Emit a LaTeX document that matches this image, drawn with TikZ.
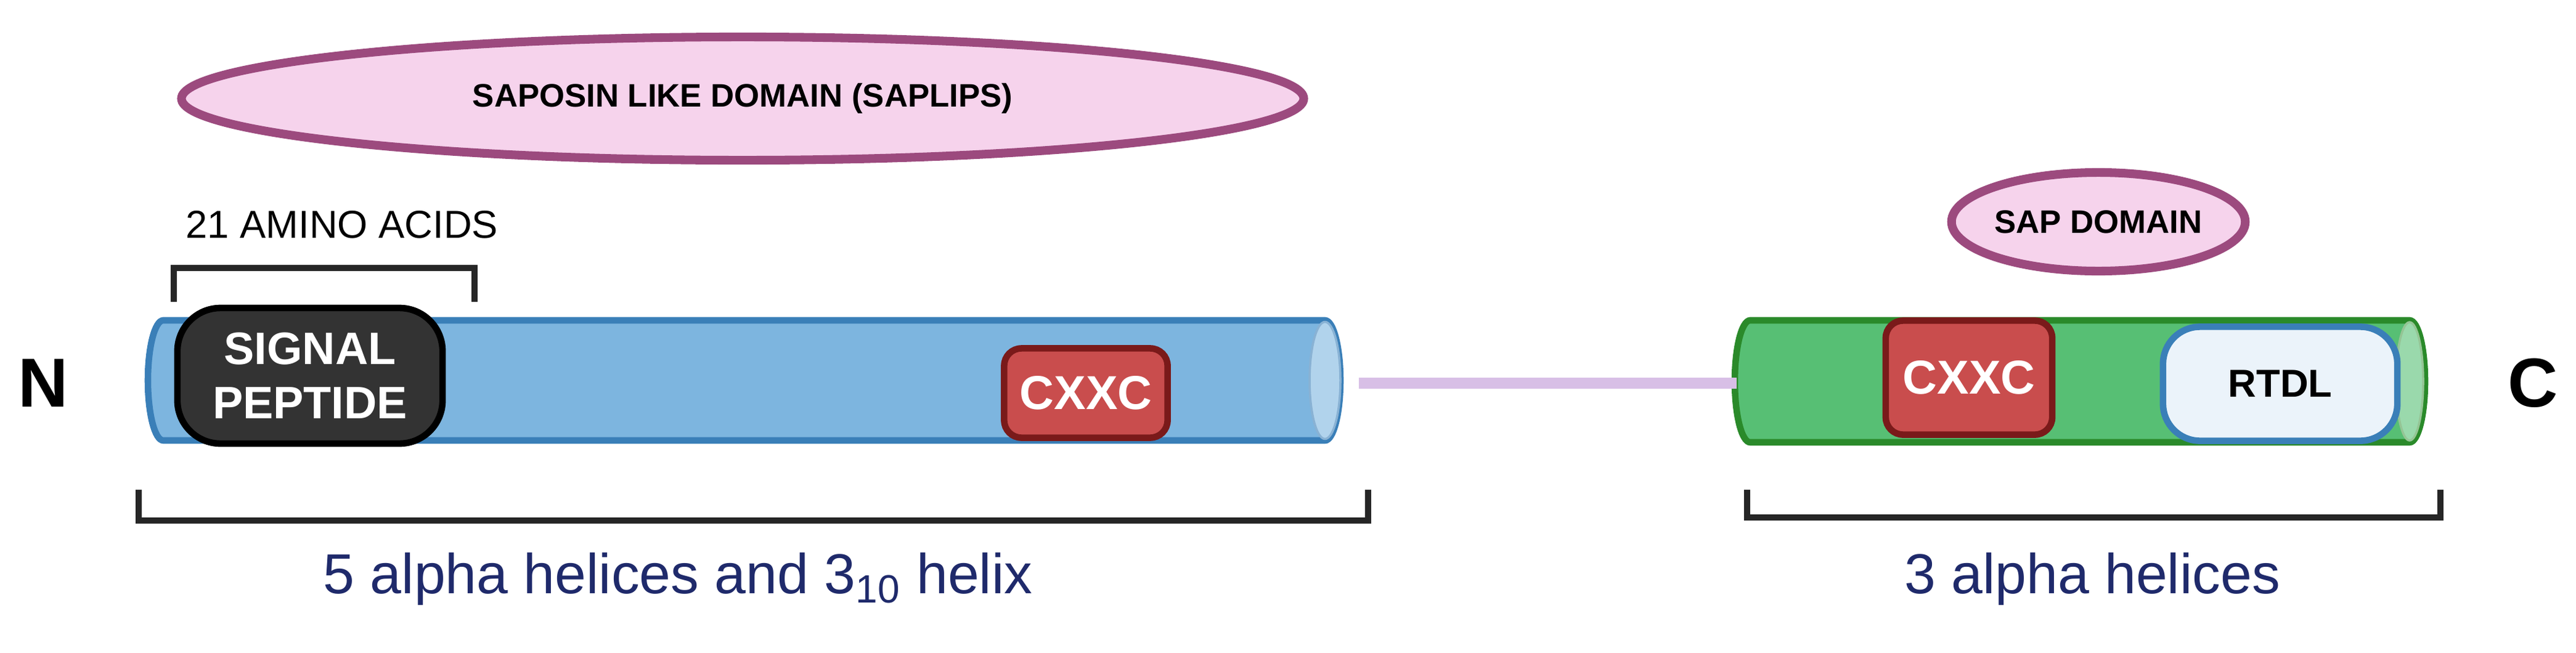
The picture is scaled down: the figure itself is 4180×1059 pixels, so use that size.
\documentclass[tikz,border=0pt]{standalone}
\usepackage{fontspec}
\setmainfont{Liberation Sans}
\usetikzlibrary{positioning,shapes.geometric}
\definecolor{helixblue}{HTML}{7DB5DF}
\definecolor{helixblueline}{HTML}{3A7FB8}
\definecolor{helixgreen}{HTML}{57BF74}
\definecolor{helixgreenline}{HTML}{2A8A2A}
\definecolor{domainpink}{HTML}{F6D3EC}
\definecolor{domainline}{HTML}{9C4A7E}
\definecolor{motifred}{HTML}{C94D4D}
\definecolor{motifline}{HTML}{7A1A1A}
\definecolor{linkerlilac}{HTML}{D8BFE6}
\definecolor{navytext}{HTML}{1F2A6B}
\tikzset{protdomain/.style={ellipse,draw=domainline,fill=domainpink,line width=4pt,
    font=\bfseries\fontsize{15}{18}\selectfont,inner sep=0pt},
  motif/.style={draw=motifline,fill=motifred,line width=3pt,rounded corners=8pt,
    text=white,font=\bfseries\fontsize{22}{26}\selectfont},
  bracket/.style={line width=3pt,draw=black!85},
  helixtext/.style={text=navytext,font=\fontsize{26}{30}\selectfont}}

\begin{document}
\begin{tikzpicture}[x=0.01cm,y=0.01cm]
	\useasboundingbox (0,0) rectangle (4180,1059);
	% domains on top
	\node[protdomain,minimum width=18.2cm,minimum height=2cm] (saplip) at (1205,899) {SAPOSIN LIKE DOMAIN (SAPLIPS)};
	\node[protdomain,minimum width=4.1cm,minimum height=1.6cm] (sap) at (3405,699) {SAP DOMAIN};
	\node[font=\fontsize{18}{22}\selectfont] (amino) at (555,694) {21 AMINO ACIDS};
	\draw[bracket] (282,569) -- (282,624) -- (770,624) -- (770,569);

	% blue helix
	\draw[draw=helixblueline,fill=helixblue,line width=3pt]
		(265,344) -- (2150,344) arc[start angle=-90,end angle=90,x radius=25,y radius=97.5]
		-- (265,539) arc[start angle=90,end angle=270,x radius=25,y radius=97.5] -- cycle;
	\draw[draw=helixblueline!60,fill=helixblue!60!white,line width=1pt] (2150,441.5) ellipse[x radius=25,y radius=95];
	\coordinate (blueend) at (2205,437);
	% green helix
	\draw[draw=helixgreenline,fill=helixgreen,line width=3pt]
		(2840,341) -- (3910,341) arc[start angle=-90,end angle=90,x radius=25,y radius=99]
		-- (2840,539) arc[start angle=90,end angle=270,x radius=25,y radius=99] -- cycle;
	\draw[draw=helixgreenline!50,fill=helixgreen!60!white,line width=1pt] (3910,440) ellipse[x radius=22,y radius=96];
	\coordinate (greenstart) at (2818,437);
	\draw[linkerlilac,line width=5pt] (blueend) -- (greenstart);

	% motifs
	\node[draw=black,fill=black!80,line width=3pt,rounded corners=0.7cm,minimum width=4.3cm,minimum height=2.2cm,
		text=white,align=center,font=\bfseries\fontsize{21}{25}\selectfont] (signal) at (503,449) {SIGNAL\\PEPTIDE};
	\node[motif,minimum width=2.65cm,minimum height=1.45cm] (cxxcone) at (1762,421) {CXXC};
	\node[motif,minimum width=2.7cm,minimum height=1.85cm] (cxxctwo) at (3195,446) {CXXC};
	\node[draw=helixblueline,fill=blue!5!helixblue!15!white,line width=3pt,rounded corners=0.6cm,
		minimum width=3.8cm,minimum height=1.85cm,font=\bfseries\fontsize{18}{22}\selectfont] (rtdl) at (3700,436) {RTDL};

	% termini
	\node[font=\bfseries\fontsize{32}{36}\selectfont] (nterm) at (70,437) {N};
	\node[font=\bfseries\fontsize{32}{36}\selectfont] (cterm) at (4110,437) {C};

	% helix brackets
	\draw[bracket] (225,264) -- (225,214) -- (2220,214) -- (2220,264);
	\draw[bracket] (2835,264) -- (2835,219) -- (3960,219) -- (3960,264);
	\node[helixtext] (fivehelix) at (1100,119) {5 alpha helices and 3\textsubscript{10} helix};
	\node[helixtext] (threehelix) at (3395,119) {3 alpha helices};
\end{tikzpicture}
\end{document}
